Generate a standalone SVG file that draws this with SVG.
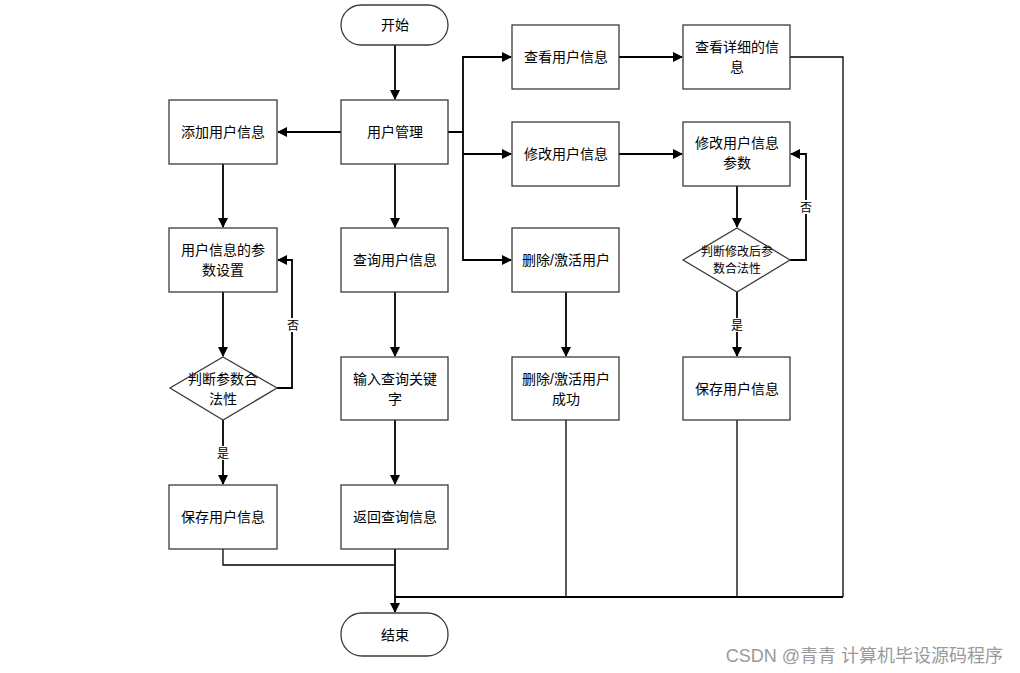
<svg xmlns="http://www.w3.org/2000/svg" width="1020" height="673" viewBox="0 0 1020 673">
<defs>
<marker id="a" markerWidth="10" markerHeight="10" refX="9" refY="5" orient="auto" markerUnits="userSpaceOnUse"><path d="M0,0 L10,5 L0,10 Z" fill="#000"/></marker>
<style>
.b{fill:#fff;stroke:#3a3a3a;stroke-width:1.3}
.t{font-family:"Liberation Sans","Noto Sans CJK SC",sans-serif;font-size:14px;fill:#000;text-anchor:middle}
.s{font-size:12px}
.c{fill:none;stroke:#000;stroke-width:1.8}
.c2{fill:none;stroke:#000;stroke-width:1.3}
</style>
</defs>
<rect width="1020" height="673" fill="#fff"/>
<g id="connectors">
<path class="c" d="M395,45V99" marker-end="url(#a)"/>
<path class="c" d="M341,132H278" marker-end="url(#a)"/>
<path class="c" d="M395,164V227" marker-end="url(#a)"/>
<path class="c" d="M223,164V227" marker-end="url(#a)"/>
<path class="c" d="M223,292V356" marker-end="url(#a)"/>
<path class="c" d="M277,388H292V260H278" marker-end="url(#a)"/>
<path class="c" d="M223,420V484" marker-end="url(#a)"/>
<path class="c" d="M395,292V356" marker-end="url(#a)"/>
<path class="c" d="M395,420V484" marker-end="url(#a)"/>
<path class="c" d="M448,132H463V57H511" marker-end="url(#a)"/>
<path class="c" d="M463,132V260H511" marker-end="url(#a)"/>
<path class="c" d="M463,154H511" marker-end="url(#a)"/>
<path class="c" d="M619,57H682" marker-end="url(#a)"/>
<path class="c" d="M619,154H682" marker-end="url(#a)"/>
<path class="c" d="M737,186V227" marker-end="url(#a)"/>
<path class="c" d="M790,260H806V154H791" marker-end="url(#a)"/>
<path class="c" d="M737,292V356" marker-end="url(#a)"/>
<path class="c" d="M566,292V356" marker-end="url(#a)"/>
<path class="c2" d="M223,549V565H395"/>
<path class="c2" d="M790,57H843V597"/>
<path class="c2" d="M566,420V597M737,420V597"/>
<path class="c" d="M395,549V612" marker-end="url(#a)"/>
<path class="c" d="M395,597H843"/>
<rect x="287" y="318" width="12" height="14" fill="#fff"/>
<text class="t s" x="293" y="330">否</text>
<rect x="800" y="200" width="12" height="14" fill="#fff"/>
<text class="t s" x="806" y="212">否</text>
<rect x="217" y="446" width="12" height="14" fill="#fff"/>
<text class="t s" x="223" y="458">是</text>
<rect x="731" y="318" width="12" height="14" fill="#fff"/>
<text class="t s" x="737" y="330">是</text>
</g>
<g id="start"><rect class="b" x="341" y="5" width="107" height="40" rx="20"/><text class="t" x="395" y="30">开始</text></g>
<g id="mgr"><rect class="b" x="341" y="100" width="107" height="64"/><text class="t" x="395" y="137">用户管理</text></g>
<g id="add"><rect class="b" x="169" y="100" width="108" height="64"/><text class="t" x="223" y="137">添加用户信息</text></g>
<g id="param"><rect class="b" x="169" y="228" width="108" height="64"/><text class="t" x="223" y="255">用户信息的参</text><text class="t" x="223" y="275">数设置</text></g>
<g id="check1"><path class="b" d="M223,357L277,388L223,420L170,388Z"/><text class="t" x="223" y="384">判断参数合</text><text class="t" x="223" y="404">法性</text></g>
<g id="save1"><rect class="b" x="169" y="485" width="108" height="64"/><text class="t" x="223" y="522">保存用户信息</text></g>
<g id="query"><rect class="b" x="341" y="228" width="107" height="64"/><text class="t" x="395" y="265">查询用户信息</text></g>
<g id="kw"><rect class="b" x="341" y="357" width="107" height="63"/><text class="t" x="395" y="384">输入查询关键</text><text class="t" x="395" y="404">字</text></g>
<g id="ret"><rect class="b" x="341" y="485" width="107" height="64"/><text class="t" x="395" y="522">返回查询信息</text></g>
<g id="view"><rect class="b" x="512" y="25" width="107" height="64"/><text class="t" x="566" y="62">查看用户信息</text></g>
<g id="detail"><rect class="b" x="683" y="25" width="107" height="64"/><text class="t" x="737" y="52">查看详细的信</text><text class="t" x="737" y="72">息</text></g>
<g id="edit"><rect class="b" x="512" y="122" width="107" height="64"/><text class="t" x="566" y="159">修改用户信息</text></g>
<g id="editp"><rect class="b" x="683" y="122" width="107" height="64"/><text class="t" x="737" y="148">修改用户信息</text><text class="t" x="737" y="168">参数</text></g>
<g id="del"><rect class="b" x="512" y="228" width="107" height="64"/><text class="t" x="566" y="265">删除/激活用户</text></g>
<g id="check2"><path class="b" d="M737,228L790,260L737,292L683,260Z"/><text class="t s" x="737" y="256">判断修改后参</text><text class="t s" x="737" y="273">数合法性</text></g>
<g id="delok"><rect class="b" x="512" y="357" width="107" height="63"/><text class="t" x="566" y="384">删除/激活用户</text><text class="t" x="566" y="404">成功</text></g>
<g id="save2"><rect class="b" x="683" y="357" width="107" height="63"/><text class="t" x="737" y="394">保存用户信息</text></g>
<g id="end"><rect class="b" x="341" y="613" width="107" height="43" rx="21"/><text class="t" x="395" y="640">结束</text></g>
<text x="1003" y="662" style="font-family:'Liberation Sans','Noto Sans CJK SC',sans-serif;font-size:18px;fill:#9a9a9a;text-anchor:end">CSDN @青青  计算机毕设源码程序</text>
</svg>
